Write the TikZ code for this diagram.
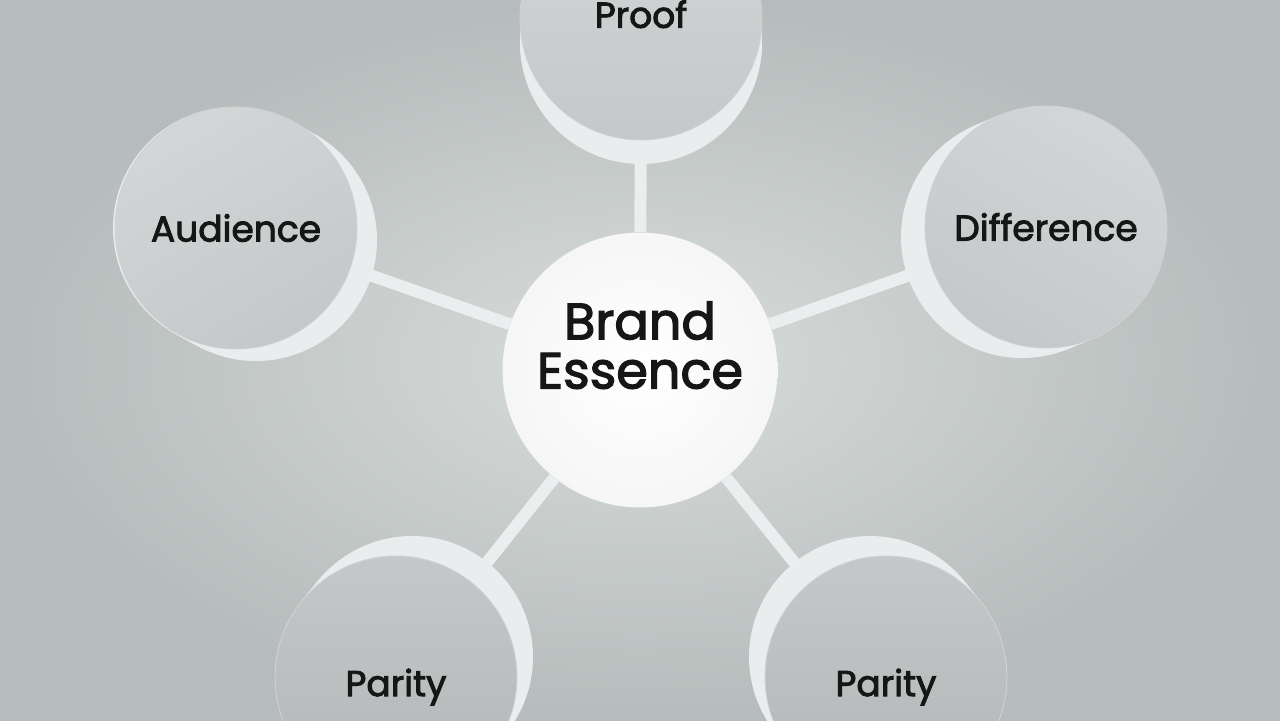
\documentclass[tikz,border=0pt]{standalone}
\usepackage{fontspec}
\setmainfont{Poppins}[FakeBold=2.5]
\usetikzlibrary{calc}
\definecolor{bgin}{HTML}{D8DDDC}
\definecolor{bgout}{HTML}{B6BCBB}
\definecolor{rimcol}{HTML}{EAEDED}
\definecolor{spokecol}{HTML}{EBEEEE}
\definecolor{inkcol}{HTML}{151717}
\definecolor{faceA}{HTML}{D2D6D6}
\definecolor{faceB}{HTML}{C4C8C8}
\definecolor{faceC}{HTML}{B3B6B6}
\pgfdeclarelayer{back}
\pgfdeclarelayer{spokes}
\pgfsetlayers{back,spokes,main}

\begin{document}
\begin{tikzpicture}[x=0.02cm,y=-0.02cm,
  disc/.style={circle,minimum size=4.84cm,inner sep=0pt,draw=rimcol!75!gray,line width=0.5pt,text=inkcol,font=\fontsize{20.5}{24}\selectfont},
  core/.style={circle,minimum size=5.5cm,inner sep=0pt,text depth=1cm,inner color=white,outer color=white!93!gray,text=inkcol,align=center,font=\fontsize{29}{28}\selectfont},
  spoke/.style={draw=spokecol,line width=0.24cm},
  rim/.style={fill=rimcol}]
\clip (0,0) rectangle (1280,720);
\begin{pgfonlayer}{back}
\shade[inner color=bgin,outer color=bgout] (0,0) rectangle (1280,720);
\end{pgfonlayer}

% cylinder sides
\foreach \cx/\cy/\dx/\dy in {641/19/0/24, 234/228/22/12, 1046/227/-24/10, 396/677/16/-20, 886/677/-16/-20}
  \foreach \k in {0,...,12}
    \fill[rim] (\cx+\k*\dx/12,\cy+\k*\dy/12) circle[radius=2.42cm];

\node[core] (essence) at (640,370) {Brand\\Essence};
\node[disc,top color=faceA,bottom color=faceB,text depth=0.2cm] (proof) at (641,19) {Proof};
\node[disc,top color=faceA,bottom color=faceB,shading angle=30] (audience) at (236,228) {Audience};
\node[disc,top color=faceA,bottom color=faceB,shading angle=-30] (difference) at (1046,227) {Difference};
\node[disc,top color=faceB,bottom color=faceC,text height=0.95cm] (parityL) at (396,677) {Parity};
\node[disc,top color=faceB,bottom color=faceC,text height=0.95cm] (parityR) at (886,677) {Parity};

\begin{pgfonlayer}{spokes}
\draw[spoke] (essence) -- (proof);
\draw[spoke] (essence) -- (audience);
\draw[spoke] (essence) -- (difference);
\draw[spoke] (essence) -- (parityL);
\draw[spoke] (essence) -- (parityR);
\end{pgfonlayer}
\end{tikzpicture}
\end{document}
